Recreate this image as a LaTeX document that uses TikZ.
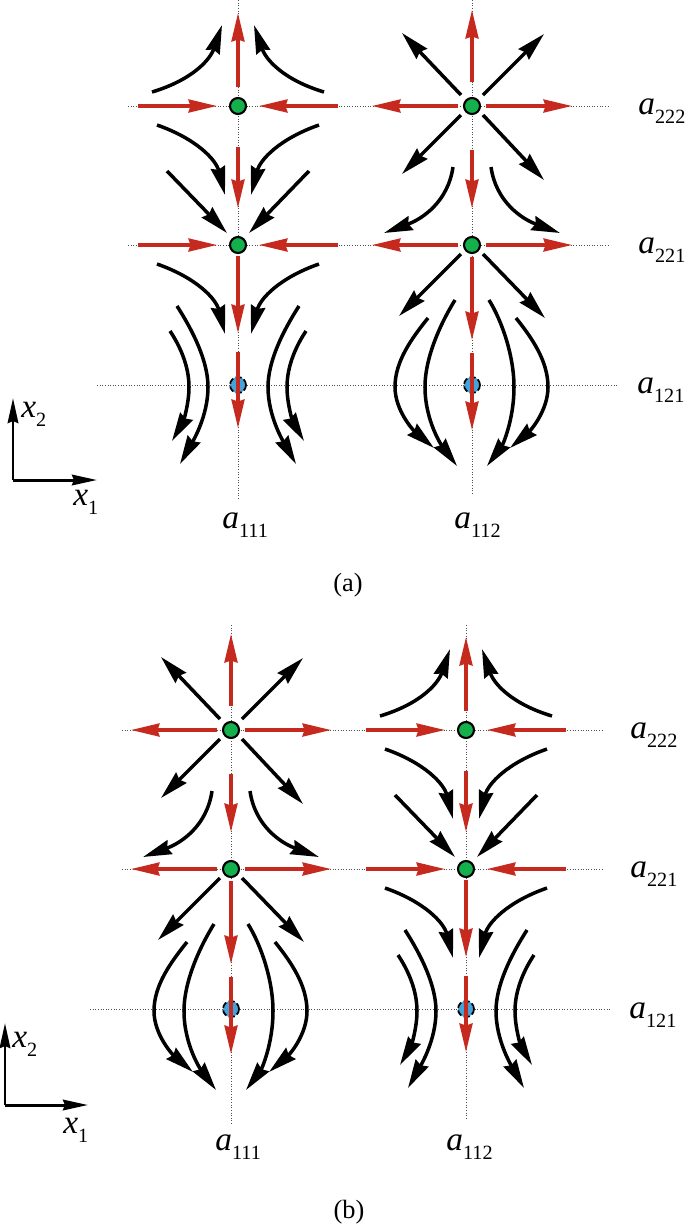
\documentclass[tikz,border=0pt]{standalone}
\usepackage{fontspec}
\setmainfont{Liberation Serif}
\usetikzlibrary{arrows.meta}
\definecolor{flowred}{HTML}{C62A1F}
\definecolor{eqgreen}{HTML}{14B04C}
\definecolor{eqblue}{HTML}{43A3DA}
\definecolor{gridc}{HTML}{505050}

\newcommand{\lab}[2]{\textit{#1}\raisebox{-5.5pt}{\fontsize{11.5}{13}\selectfont #2}}

% column with sinks along x1 (saddle on top)
\newcommand{\saddlecol}[1]{%
  \node[bpt] (#1b) at (0,279) {};
  \draw[rarr] (0,-19) -- (0,-93);
  \draw[rarr] (-100,0) -- (-21,0);
  \draw[rarr] (100,0) -- (21,0);
  \draw[rarr] (0,41) -- (0,102);
  \draw[rarr] (-100,139) -- (-21,139);
  \draw[rarr] (100,139) -- (21,139);
  \draw[rarr] (0,150) -- (0,227);
  \draw[rarr] (0,246) -- (0,322);
  \draw[barr] (-86,-14) .. controls (-46,-26) and (-28,-46) .. (-16,-81);
  \draw[barr] (86,-14) .. controls (46,-26) and (28,-46) .. (16,-81);
  \draw[barr] (-81,19) .. controls (-41,33) and (-22,54) .. (-13,89);
  \draw[barr] (81,19) .. controls (41,33) and (22,54) .. (13,89);
  \draw[barr] (-71,65) -- (-11,127);
  \draw[barr] (71,65) -- (11,127);
  \draw[barr] (-81,158) .. controls (-41,172) and (-22,193) .. (-13,228);
  \draw[barr] (81,158) .. controls (41,172) and (22,193) .. (13,228);
  \draw[barr] (-68,225) .. controls (-58,240) and (-49,260) .. (-49,281) .. controls (-49,300) and (-56,318) .. (-66,335);
  \draw[barr] (68,225) .. controls (58,240) and (49,260) .. (49,281) .. controls (49,300) and (56,318) .. (66,335);
  \draw[barr] (-61,200) .. controls (-45,225) and (-30,255) .. (-30,281) .. controls (-30,310) and (-45,335) .. (-58,358);
  \draw[barr] (61,200) .. controls (45,225) and (30,255) .. (30,281) .. controls (30,310) and (45,335) .. (58,358);
  \node[ept] (#1t) at (0,0) {};
  \node[ept] (#1l) at (0,139) {};
}

% column with sources along x1 (unstable node on top)
\newcommand{\sourcecol}[1]{%
  \node[bpt] (#1b) at (0,279) {};
  \draw[rarr] (0,-24) -- (0,-96);
  \draw[rarr] (-14,0) -- (-100,0);
  \draw[rarr] (14,0) -- (100,0);
  \draw[rarr] (0,44) -- (0,102);
  \draw[rarr] (-14,139) -- (-100,139);
  \draw[rarr] (14,139) -- (100,139);
  \draw[rarr] (0,151) -- (0,234);
  \draw[rarr] (0,247) -- (0,324);
  \draw[barr] (-11,-11) -- (-70,-73);
  \draw[barr] (11,-11) -- (72,-72);
  \draw[barr] (-11,9) -- (-70,68);
  \draw[barr] (11,9) -- (72,74);
  \draw[barr] (-19,61) .. controls (-24,96) and (-50,113) .. (-88,127);
  \draw[barr] (19,61) .. controls (24,96) and (50,113) .. (88,127);
  \draw[barr] (-11,148) -- (-73,210);
  \draw[barr] (11,148) -- (73,212);
  \draw[barr] (-44,212) .. controls (-60,232) and (-77,255) .. (-77,281) .. controls (-77,305) and (-58,325) .. (-38,342);
  \draw[barr] (44,212) .. controls (60,232) and (76,255) .. (76,281) .. controls (76,305) and (58,325) .. (38,342);
  \draw[barr] (-17,194) .. controls (-30,215) and (-47,250) .. (-47,281) .. controls (-47,315) and (-30,340) .. (-15,360);
  \draw[barr] (17,194) .. controls (30,215) and (42,250) .. (42,281) .. controls (42,315) and (30,340) .. (15,360);
  \node[ept] (#1t) at (0,0) {};
  \node[ept] (#1l) at (0,139) {};
}

\begin{document}
\begin{tikzpicture}[
  x=0.02cm, y=-0.02cm,
  dotline/.style={densely dotted, gridc, line width=0.5pt},
  rarr/.style={-{Stealth[length=0.57cm, width=0.26cm, inset=0.04cm]}, flowred, line width=1.8pt},
  barr/.style={-{Stealth[length=0.57cm, width=0.29cm, inset=0.05cm]}, black, line width=2pt},
  axarr/.style={-{Stealth[length=0.5cm, width=0.21cm, inset=0.04cm]}, black, line width=1.7pt},
  ept/.style={circle, draw=black, fill=eqgreen, line width=1.2pt, minimum size=0.32cm, inner sep=0pt},
  bpt/.style={circle, draw=black, dash pattern=on 3.5pt off 1.5pt, fill=eqblue, line width=1pt, minimum size=0.32cm, inner sep=0pt},
  lbl/.style={anchor=base west, inner sep=0pt, font=\fontsize{19}{22}\selectfont},
  captxt/.style={font=\fontsize{15}{18}\selectfont},
]
\useasboundingbox (0,0) rectangle (685,1225);

% (a)
\draw[dotline] (128,106) -- (610,106);
\draw[dotline] (128,245) -- (610,245);
\draw[dotline] (97,385) -- (617,385);
\draw[dotline] (238,0) -- (238,500);
\draw[dotline] (472,0) -- (472,493);

\begin{scope}[shift={(238,106)}]
  \saddlecol{aL}
\end{scope}
\begin{scope}[shift={(472,106)}]
  \sourcecol{aR}
\end{scope}

\coordinate (ao) at (13,480);
\draw[axarr] (ao) -- (13,398);
\draw[axarr] (ao) -- (97,480);
\node[lbl] (ax2) at (21,417) {\lab{x}{2}};
\node[lbl] (ax1) at (73,505) {\lab{x}{1}};

\node[lbl] (a222) at (638,114) {\lab{a}{222}};
\node[lbl] (a221) at (638,253) {\lab{a}{221}};
\node[lbl] (a121) at (637,393) {\lab{a}{121}};
\node[lbl] (a111) at (222,528) {\lab{a}{111}};
\node[lbl] (a112) at (454,528) {\lab{a}{112}};
\node[captxt] (capa) at (348,585) {(a)};

% (b)
\draw[dotline] (122,730) -- (603,730);
\draw[dotline] (122,869) -- (603,869);
\draw[dotline] (90,1009) -- (610,1009);
\draw[dotline] (231,625) -- (231,1125);
\draw[dotline] (466,625) -- (466,1118);

\begin{scope}[shift={(231,730)}]
  \sourcecol{bL}
\end{scope}
\begin{scope}[shift={(466,730)}]
  \saddlecol{bR}
\end{scope}

\coordinate (bo) at (5,1105);
\draw[axarr] (bo) -- (5,1023);
\draw[axarr] (bo) -- (88,1105);
\node[lbl] (bx2) at (12,1047) {\lab{x}{2}};
\node[lbl] (bx1) at (63,1133) {\lab{x}{1}};

\node[lbl] (b222) at (630,738) {\lab{a}{222}};
\node[lbl] (b221) at (630,877) {\lab{a}{221}};
\node[lbl] (b121) at (629,1018) {\lab{a}{121}};
\node[lbl] (b111) at (215,1150) {\lab{a}{111}};
\node[lbl] (b112) at (446,1150) {\lab{a}{112}};
\node[captxt] (capb) at (349,1212) {(b)};

\end{tikzpicture}
\end{document}
